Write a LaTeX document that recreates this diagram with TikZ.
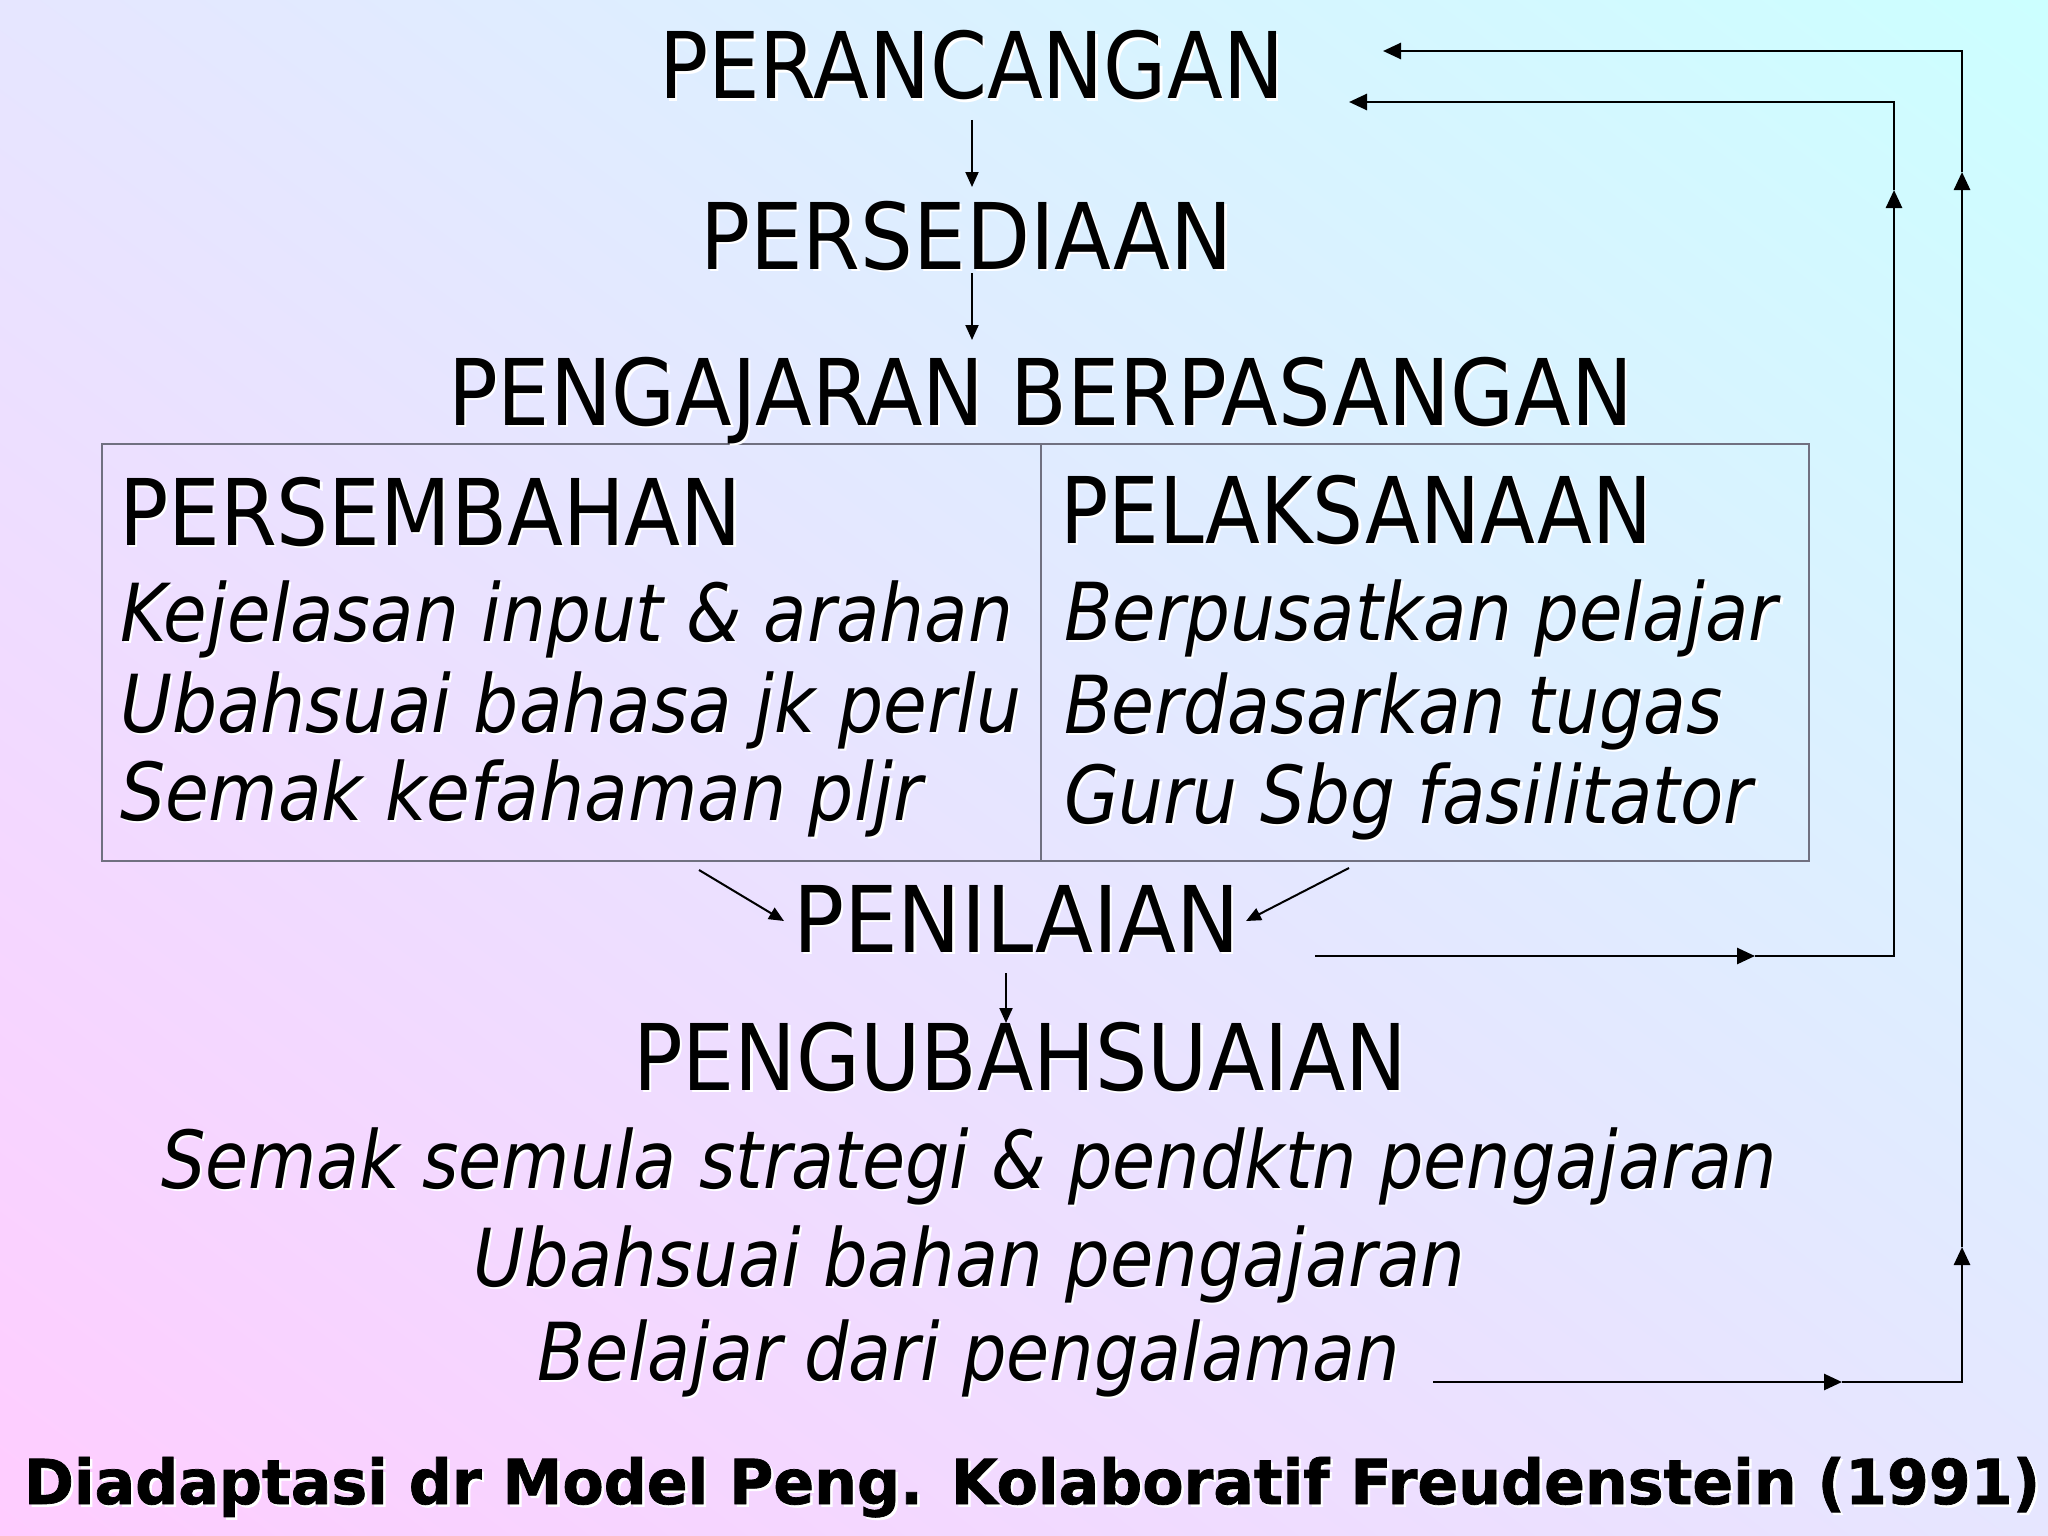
\documentclass[tikz,border=0pt]{standalone}
\usepackage{fontspec}
\setmainfont{DejaVu Sans}
\newfontfamily\footfam{DejaVu Sans Bold}[FakeBold=1.2]
\usepackage{graphicx}
\usetikzlibrary{arrows.meta,shadings}
\definecolor{bgpink}{HTML}{FFCCFF}
\definecolor{bgcyan}{HTML}{CCFFFF}
\definecolor{bglav}{HTML}{E6E6FF}
\definecolor{boxgray}{HTML}{707080}
\newcommand\shd[1]{\leavevmode\rlap{\hspace{2.5pt}\raisebox{-2.5pt}{\textcolor{white}{#1}}}#1}
\newcommand\fitw[2]{\resizebox{#1}{\height}{\shd{#2}}}
\newcommand\HeadFont{\fontsize{92}{100}\selectfont}
\newcommand\ItemFont{\fontsize{80}{90}\selectfont\itshape}
\newcommand\FootFont{\fontsize{62}{70}\selectfont\footfam}
\tikzset{
  txt/.style={inner sep=0pt, outer sep=0pt, anchor=base west, text=black},
  flow/.style={draw=black, line width=2pt, -{Triangle[length=15pt,width=13pt]}},
  fbarrow/.style={draw=black, line width=2.7pt, -{Triangle[length=18pt,width=16pt]}},
  cell/.style={draw=boxgray, line width=1.5pt, inner sep=0pt, outer sep=0pt, anchor=north west}
}
\begin{document}
\begin{tikzpicture}[x=1pt,y=-1pt]
\useasboundingbox (0,0) rectangle (2048,1536);
\shade[upper left=bglav, upper right=bgcyan, lower left=bgpink, lower right=bglav] (0,0) rectangle (2048,1536);

% box cells
\node[cell, minimum width=939pt, minimum height=417pt] (leftcell) at (102,444) {};
\node[cell, minimum width=768pt, minimum height=417pt] (rightcell) at (1041,444) {};

% headings
\node[txt] (perancangan) at (659,99) {\fitw{625pt}{\HeadFont PERANCANGAN}};
\node[txt] (persediaan) at (700,269) {\fitw{533pt}{\HeadFont PERSEDIAAN}};
\node[txt] (pengajaran) at (448,425) {\fitw{1185pt}{\HeadFont PENGAJARAN BERPASANGAN}};
\node[txt] (persembahan) at (119,545) {\fitw{623pt}{\HeadFont PERSEMBAHAN}};
\node[txt] (pelaksanaan) at (1060,543) {\fitw{592pt}{\HeadFont PELAKSANAAN}};
\node[txt] (kejelasan) at (120,641) {\fitw{893pt}{\ItemFont Kejelasan input \& arahan}};
\node[txt] (ubahbahasa) at (120,732) {\fitw{901pt}{\ItemFont Ubahsuai bahasa jk perlu}};
\node[txt] (semakfaham) at (120,820) {\fitw{803pt}{\ItemFont Semak kefahaman pljr}};
\node[txt] (berpusat) at (1064,640) {\fitw{714pt}{\ItemFont Berpusatkan pelajar}};
\node[txt] (berdasar) at (1064,733) {\fitw{659pt}{\ItemFont Berdasarkan tugas}};
\node[txt] (guru) at (1064,823) {\fitw{689pt}{\ItemFont Guru Sbg fasilitator}};
\node[txt] (penilaian) at (793,952) {\fitw{447pt}{\HeadFont PENILAIAN}};
\node[txt] (pengubah) at (633,1090) {\fitw{774pt}{\HeadFont PENGUBAHSUAIAN}};
\node[txt] (semakstrat) at (161,1188) {\fitw{1616pt}{\ItemFont Semak semula strategi \& pendktn pengajaran}};
\node[txt] (ubahbahan) at (473,1286) {\fitw{992pt}{\ItemFont Ubahsuai bahan pengajaran}};
\node[txt] (belajar) at (537,1380) {\fitw{863pt}{\ItemFont Belajar dari pengalaman}};
\node[txt] (footer) at (24,1504) {\fitw{2016pt}{\FootFont Diadaptasi dr Model Peng. Kolaboratif Freudenstein (1991)}};

% connector end points
\coordinate (f1s) at (972,120);  \coordinate (f1e) at (972,187);
\coordinate (f2s) at (972,273);  \coordinate (f2e) at (972,340);
\coordinate (d1s) at (699,870);  \coordinate (d1e) at (784,921);
\coordinate (d2s) at (1349,868); \coordinate (d2e) at (1246,921);
\coordinate (f3s) at (1006,973); \coordinate (f3e) at (1006,1023);

\coordinate (a0) at (1315,956);
\coordinate (a1) at (1755,956);
\coordinate (a2) at (1894,956);
\coordinate (a3) at (1894,190);
\coordinate (a4) at (1894,102);
\coordinate (a5) at (1349,102);

\coordinate (b0) at (1433,1382);
\coordinate (b1) at (1842,1382);
\coordinate (b2) at (1962,1382);
\coordinate (b3) at (1962,1247);
\coordinate (b4) at (1962,172);
\coordinate (b5) at (1962,51);
\coordinate (b6) at (1383,51);

% flow arrows
\draw[flow] (f1s) -- (f1e);
\draw[flow] (f2s) -- (f2e);
\draw[flow] (d1s) -- (d1e);
\draw[flow] (d2s) -- (d2e);
\draw[flow] (f3s) -- (f3e);

% feedback loops
\draw[fbarrow] (a0) -- (a1);
\draw[fbarrow] (a1) -- (a2) -- (a3);
\draw[fbarrow] (a3) -- (a4) -- (a5);

\draw[fbarrow] (b0) -- (b1);
\draw[fbarrow] (b1) -- (b2) -- (b3);
\draw[fbarrow] (b3) -- (b4);
\draw[fbarrow] (b4) -- (b5) -- (b6);
\end{tikzpicture}
\end{document}
